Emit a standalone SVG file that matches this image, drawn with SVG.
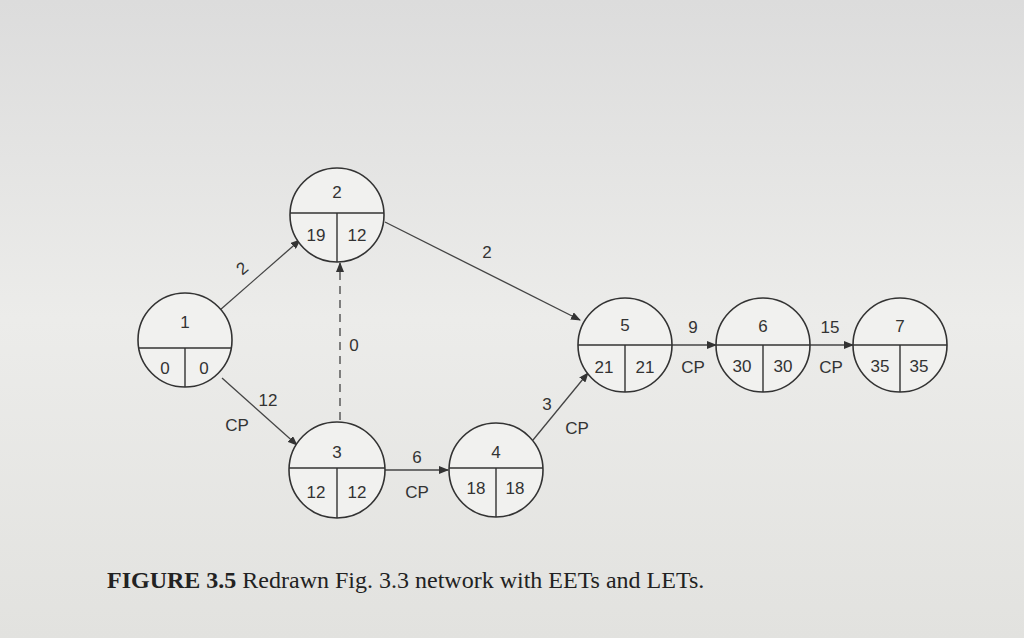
<svg xmlns="http://www.w3.org/2000/svg" width="1024" height="638" viewBox="0 0 1024 638">
<defs>
<marker id="ah" markerWidth="10" markerHeight="8" refX="9" refY="4" orient="auto" markerUnits="userSpaceOnUse"><path d="M0,0 L10,4 L0,8 Z" fill="#333"/></marker>
<linearGradient id="bg" x1="0" y1="0" x2="0" y2="1"><stop offset="0" stop-color="#dcdcdc"/><stop offset="0.5" stop-color="#ececea"/><stop offset="1" stop-color="#e2e2df"/></linearGradient>
</defs>
<style>
.n circle{fill:#f1f1ef;stroke:#333;stroke-width:1.6}
.n line{stroke:#333;stroke-width:1.4}
text{font-family:"Liberation Sans",Arial,sans-serif;font-size:17px;fill:#333;text-anchor:middle}
.c line{stroke:#444;stroke-width:1.3;marker-end:url(#ah)}
.cap{font-family:"Liberation Serif","Times New Roman",serif;font-size:24px;text-anchor:start;fill:#222}
</style>
<rect width="1024" height="638" fill="url(#bg)"/>
<g class="c">
<line x1="220" y1="310" x2="300" y2="240"/>
<line x1="385" y1="222" x2="580" y2="320"/>
<line x1="222" y1="378" x2="297" y2="445"/>
<line x1="340" y1="420" x2="340" y2="263" stroke-dasharray="8,6"/>
<line x1="385" y1="470" x2="448" y2="470"/>
<line x1="533" y1="440" x2="588" y2="373"/>
<line x1="672" y1="345" x2="716" y2="345"/>
<line x1="810" y1="345" x2="853" y2="345"/>
<text x="242" y="274" transform="rotate(-40 242 268)">2</text>
<text x="487" y="258">2</text>
<text x="268" y="406">12</text>
<text x="237" y="431">CP</text>
<text x="354" y="351">0</text>
<text x="417" y="463">6</text>
<text x="417" y="498">CP</text>
<text x="547" y="410">3</text>
<text x="577" y="434">CP</text>
<text x="693" y="333">9</text>
<text x="693" y="373">CP</text>
<text x="830" y="333">15</text>
<text x="831" y="373">CP</text>
</g>
<g id="n1" class="n"><circle cx="185" cy="340" r="47"/><line x1="138" y1="348" x2="232" y2="348"/><line x1="185" y1="348" x2="185" y2="387"/><text x="185" y="328">1</text><text x="165" y="374">0</text><text x="204" y="374">0</text></g>
<g id="n2" class="n"><circle cx="337" cy="215" r="47"/><line x1="290" y1="213" x2="384" y2="213"/><line x1="337" y1="213" x2="337" y2="262"/><text x="337" y="198">2</text><text x="316" y="241">19</text><text x="357" y="241">12</text></g>
<g id="n3" class="n"><circle cx="337" cy="470" r="48"/><line x1="289" y1="468" x2="385" y2="468"/><line x1="337" y1="468" x2="337" y2="518"/><text x="337" y="458">3</text><text x="316" y="498">12</text><text x="357" y="498">12</text></g>
<g id="n4" class="n"><circle cx="496" cy="470" r="47"/><line x1="449" y1="468" x2="543" y2="468"/><line x1="496" y1="468" x2="496" y2="517"/><text x="496" y="458">4</text><text x="476" y="494">18</text><text x="515" y="494">18</text></g>
<g id="n5" class="n"><circle cx="625" cy="345" r="47"/><line x1="578" y1="345" x2="672" y2="345"/><line x1="625" y1="345" x2="625" y2="392"/><text x="625" y="331">5</text><text x="604" y="373">21</text><text x="645" y="373">21</text></g>
<g id="n6" class="n"><circle cx="763" cy="345" r="47"/><line x1="716" y1="345" x2="810" y2="345"/><line x1="763" y1="345" x2="763" y2="392"/><text x="763" y="332">6</text><text x="742" y="372">30</text><text x="783" y="372">30</text></g>
<g id="n7" class="n"><circle cx="900" cy="345" r="47"/><line x1="853" y1="345" x2="947" y2="345"/><line x1="900" y1="345" x2="900" y2="392"/><text x="900" y="332">7</text><text x="880" y="372">35</text><text x="919" y="372">35</text></g>
<text class="cap" x="107" y="588"><tspan font-weight="bold">FIGURE 3.5</tspan> Redrawn Fig. 3.3 network with EETs and LETs.</text>
</svg>
